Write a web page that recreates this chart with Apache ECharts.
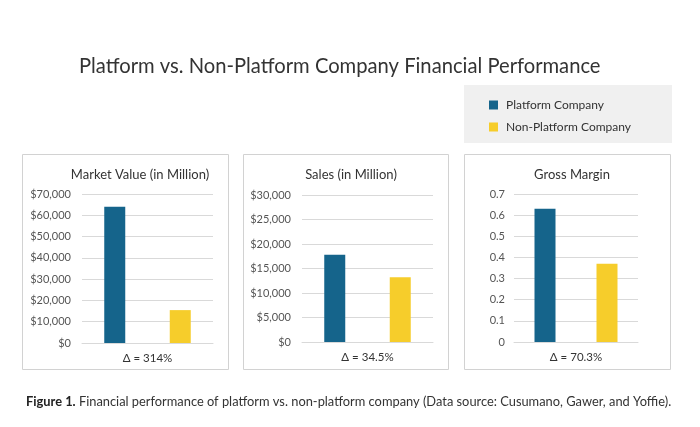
<!DOCTYPE html>
<html lang="en">
<head>
  <meta charset="UTF-8">
  <title>Platform vs. Non-Platform</title>
  <script src="https://cdn.jsdelivr.net/npm/echarts@6/dist/echarts.min.js"></script>
  <style>
    html, body { margin: 0; padding: 0; background: #fff; }
  </style>
</head>
<body>
<div id="main" style="width: 700px;height:427px;"></div>
<script type="text/javascript">
    var myChart = echarts.init(document.getElementById('main'));

    // data
    var companies = ['Platform Company', 'Non-Platform Company'];
    var marketValue = [64000, 15450];
    var sales = [17800, 13230];
    var grossMargin = [0.63, 0.37];
    var panelTitles = ['Market Value (in Million)', 'Sales (in Million)', 'Gross Margin'];
    var deltaLabels = ['\u0394 = 314%', '\u0394 = 34.5%', '\u0394 = 70.3%'];
    var axisMax = [70000, 30000, 0.7];
    var axisStep = [10000, 5000, 0.1];

    var font = 'Lato, "Open Sans", sans-serif';
    var blue = '#15648b';
    var yellow = '#f6cd2b';

    // panel layout (pixels)
    var grids = [
        { left: 82, right: 487, top: 194, bottom: 84 },
        { left: 302, right: 267, top: 195, bottom: 85 },
        { left: 514, right: 62, top: 194, bottom: 85 }
    ];
    var boxes = [[22, 154, 206, 215], [243, 154, 205, 215], [464, 154, 206, 215]];
    var titleX = [135, 346, 567];
    var labelMargin = [11, 11, 9];
    var allData = [marketValue, sales, grossMargin];

    function dollar(v) {
        return '$' + v.toLocaleString('en-US');
    }

    var titles = [{
        text: 'Platform vs. Non-Platform Company Financial Performance',
        left: 74, top: 51,
        textStyle: { fontFamily: font, fontSize: 20.2, fontWeight: 'normal', color: '#333' }
    }, {
        text: '{b|Figure 1.} Financial performance of platform vs. non-platform company (Data source: Cusumano, Gawer, and Yoffie).',
        left: 21, top: 390,
        textStyle: {
            fontFamily: font, fontSize: 12.85, fontWeight: 'normal', color: '#333',
            rich: { b: { fontFamily: font, fontSize: 12.85, fontWeight: 'bold', color: '#222' } }
        }
    }];
    var xAxes = [], yAxes = [], series = [], graphics = [];

    graphics.push({
        type: 'rect', shape: { x: 464, y: 85, width: 208, height: 58 },
        style: { fill: '#f0f0f0' }, z: -1
    });

    for (var i = 0; i < 3; i++) {
        graphics.push({
            type: 'rect',
            shape: { x: boxes[i][0] + 0.5, y: boxes[i][1] + 0.5, width: boxes[i][2], height: boxes[i][3] },
            style: { fill: null, stroke: '#d2d2d2', lineWidth: 1 }, z: -1
        });
        titles.push({
            text: panelTitles[i],
            left: titleX[i], top: 163, textAlign: 'center',
            textStyle: { fontFamily: font, fontSize: 13, fontWeight: 'normal', color: '#333' }
        });
        xAxes.push({
            type: 'category', gridIndex: i,
            data: companies,
            axisLine: { lineStyle: { color: '#d9d9d9' } },
            axisTick: { show: false },
            axisLabel: { show: false },
            name: deltaLabels[i],
            nameLocation: 'middle', nameGap: 9,
            nameTextStyle: { fontFamily: font, fontSize: 11.5, color: '#333', verticalAlign: 'top' }
        });
        yAxes.push({
            type: 'value', gridIndex: i,
            min: 0, max: axisMax[i], interval: axisStep[i],
            axisLine: { show: false },
            axisTick: { show: false },
            splitLine: { lineStyle: { color: '#d9d9d9' } },
            axisLabel: {
                margin: labelMargin[i],
                fontFamily: font, fontSize: 11, color: '#555',
                formatter: i < 2 ? dollar : function (v) { return +v.toFixed(1) + ''; }
            }
        });
        series.push({
            name: companies[0], type: 'bar',
            xAxisIndex: i, yAxisIndex: i,
            barWidth: 21, barGap: '-100%',
            itemStyle: { color: blue },
            data: [allData[i][0], '-']
        }, {
            name: companies[1], type: 'bar',
            xAxisIndex: i, yAxisIndex: i,
            barWidth: 21, barGap: '-100%',
            itemStyle: { color: yellow },
            data: ['-', allData[i][1]]
        });
    }

    option = {
        animation: false,
        title: titles,
        legend: {
            data: companies,
            orient: 'vertical',
            left: 484, top: 93,
            itemWidth: 9, itemHeight: 9,
            itemGap: 8,
            icon: 'rect',
            textStyle: { fontFamily: font, fontSize: 12, color: '#333', lineHeight: 14, padding: [0, 0, 0, 3] }
        },
        grid: grids,
        xAxis: xAxes,
        yAxis: yAxes,
        series: series,
        graphic: graphics
    };

    myChart.setOption(option);
</script>
</body>
</html>
